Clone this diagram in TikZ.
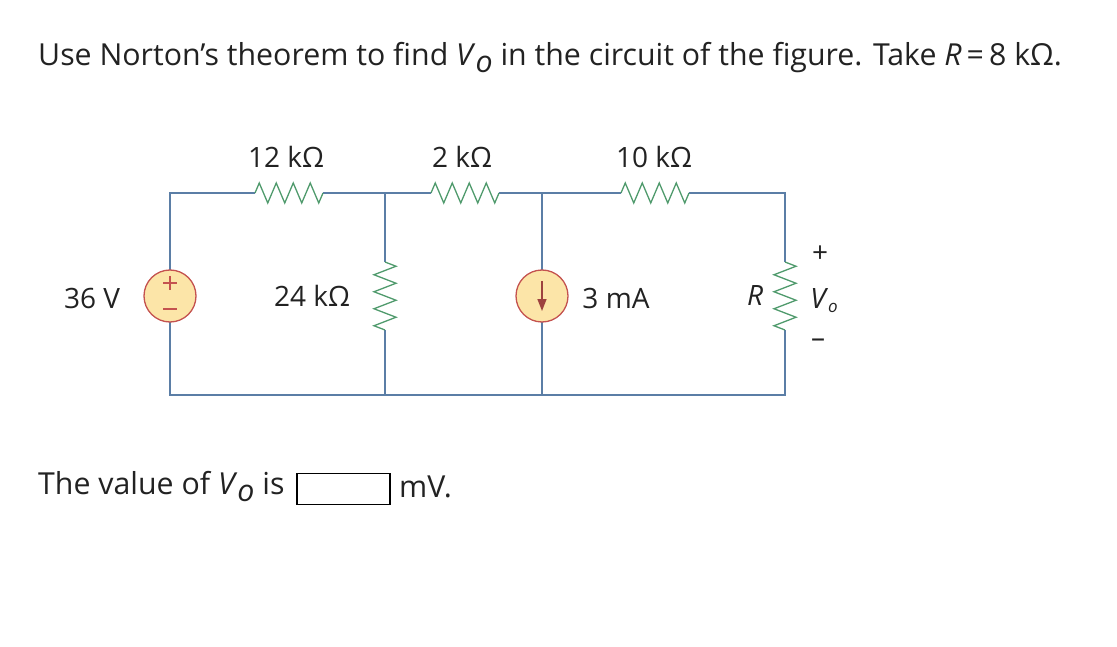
\documentclass[tikz,border=0pt]{standalone}
\usepackage{fontspec}
\setmainfont{Open Sans}
\usetikzlibrary{arrows.meta}
\definecolor{wire}{HTML}{5B7EA6}
\definecolor{resg}{HTML}{4F9A6C}
\definecolor{srcfill}{HTML}{FCE5A8}
\definecolor{srcedge}{HTML}{C4524F}
\definecolor{txt}{HTML}{222222}
\tikzset{
  w/.style={draw=wire,line width=1.6pt},
  rz/.style={draw=resg,line width=1.3pt,line join=miter},
  src/.style={circle,draw=srcedge,fill=srcfill,line width=1.3pt,minimum size=52pt,inner sep=0pt},
  lbl/.style={text=txt,font=\fontsize{28}{30}\selectfont,inner sep=0pt},
  big/.style={text=txt,font=\fontsize{30.3}{34}\selectfont,inner sep=0pt,anchor=west},
}
\begin{document}
\begin{tikzpicture}[x=1pt,y=-1pt]
\useasboundingbox (0,0) rectangle (1117,647);
% title
\node[big] (title) at (38,58) {Use Norton’s theorem to find \textit{V}\raisebox{-7pt}{\textit{o}} in the circuit of the figure. Take \textit{R}\,=\,8 kΩ.};
% junctions
\coordinate (tl) at (170,193); \coordinate (t1) at (385,193); \coordinate (t2) at (542,193); \coordinate (tr) at (785,193);
\coordinate (bl) at (170,395); \coordinate (b1) at (385,395); \coordinate (b2) at (542,395); \coordinate (br) at (785,395);
\coordinate (r12a) at (255,193); \coordinate (r12b) at (323,193);
\coordinate (r2a) at (431,193); \coordinate (r2b) at (499,193);
\coordinate (r10a) at (621,193); \coordinate (r10b) at (689,193);
\coordinate (r24a) at (385,262); \coordinate (r24b) at (385,330);
\coordinate (rRa) at (785,262); \coordinate (rRb) at (785,330);
\coordinate (vsc) at (170,296); \coordinate (csc) at (542,296);
% wires
\draw[w] (vsc) -- (tl) -- (r12a);
\draw[w] (r12b) -- (r2a);
\draw[w] (r2b) -- (r10a);
\draw[w] (r10b) -- (tr) -- (rRa);
\draw[w] (rRb) -- (br) -- (bl) -- (vsc);
\draw[w] (t1) -- (r24a); \draw[w] (r24b) -- (b1);
\draw[w] (t2) -- (b2);
% sources
\node[src] (vs) at (vsc) {};
\node[src] (cs) at (csc) {};
% horizontal zigzags
\foreach \s in {r12a,r2a,r10a}{
  \draw[rz] (\s) -- ++(4.25,-10) -- ++(8.5,20) -- ++(8.5,-20) -- ++(8.5,20) -- ++(8.5,-20) -- ++(8.5,20) -- ++(8.5,-20) -- ++(8.5,20) -- ++(4.25,-10);
}
% vertical zigzags
\foreach \s in {r24a,rRa}{
  \draw[rz] (\s) -- ++(11,4.25) -- ++(-22,8.5) -- ++(22,8.5) -- ++(-22,8.5) -- ++(22,8.5) -- ++(-22,8.5) -- ++(22,8.5) -- ++(-22,8.5) -- ++(11,4.25);
}
% source symbols
\draw[srcedge,line width=1.3pt] (vs.center) ++(-7,-13) -- ++(14,0) (vs.center) ++(0,-20) -- ++(0,14);
\draw[srcedge,line width=1.3pt] (vs.center) ++(-7,13) -- ++(14,0);
\draw[srcedge!80!black,line width=1.5pt,-{Triangle[length=12pt,width=9pt]}] (cs.center) ++(0,-15) -- ++(0,30);
% labels
\node[lbl] (l12) at (286,157) {12 kΩ};
\node[lbl] (l2) at (462,157) {2 kΩ};
\node[lbl] (l10) at (654,157) {10 kΩ};
\node[lbl] (l36) at (92,298) {36 V};
\node[lbl] (l24) at (312,296) {24 kΩ};
\node[lbl] (l3) at (616,298) {3 mA};
\node[lbl,font=\fontsize{28}{30}\selectfont\rmfamily\itshape] (lR) at (755,296) {R};
\node[lbl] (lp) at (820,254) {+};
\node[lbl] (lvo) at (824,301) {\textit{V}\raisebox{-4pt}{\fontsize{17}{18}\selectfont\textit{o}}};
\node[lbl] (lm) at (818,343) {\textendash};
% answer line
\node[big] (q) at (38,487) {The value of \textit{V}\raisebox{-7pt}{\textit{o}} is};
\node[draw=black,line width=1.2pt,minimum width=93pt,minimum height=31pt,inner sep=0pt] (box) at (343.5,489) {};
\node[big] (mv) at (399,487) {mV.};
\end{tikzpicture}
\end{document}
